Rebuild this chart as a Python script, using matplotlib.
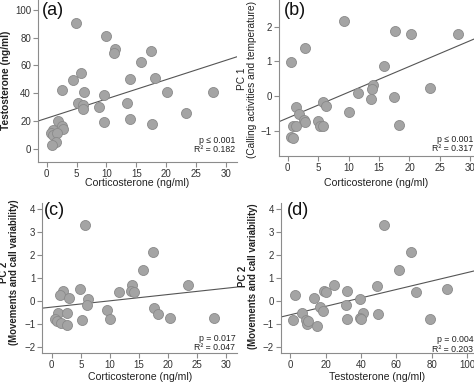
import matplotlib
matplotlib.use('Agg')
import matplotlib.pyplot as plt
import numpy as np

plt.rcParams['font.family'] = ['Liberation Sans', 'DejaVu Sans']

W, H = 474, 385

# (a) corticosterone vs testosterone
a_x = [4.9, 10.0, 11.4, 11.3, 17.4, 15.8, 5.7, 4.4, 13.9, 18.2, 2.6, 6.3, 9.6, 20.2,
       27.8, 5.2, 6.0, 6.1, 8.8, 13.5, 9.6, 13.9, 17.6, 23.3, 1.95, 2.6, 2.8, 1.0,
       0.7, 1.1, 1.8, 1.55, 0.84]
a_y = [90.5, 80.8, 71.9, 68.8, 70.0, 62.3, 54.2, 49.6, 50.1, 50.6, 42.3, 41.0, 38.4, 41.0,
       40.8, 32.9, 31.4, 28.5, 30.0, 32.9, 19.2, 21.0, 17.7, 25.4, 19.6, 16.3, 14.2, 13.2,
       11.0, 9.5, 11.0, 4.5, 2.5]

# (b) corticosterone vs PC 1
b_x = [9.3, 17.7, 20.3, 27.9, 2.8, 0.6, 15.8, 14.0, 13.9, 11.5, 23.3, 13.6, 17.5, 5.8,
       6.3, 1.4, 1.8, 10.1, 2.6, 2.8, 4.9, 5.3, 5.8, 0.8, 1.4, 18.2, 0.6, 0.9]
b_y = [2.15, 1.89, 1.79, 1.79, 1.39, 0.97, 0.87, 0.33, 0.19, 0.08, 0.22, -0.09, -0.03, -0.18,
       -0.29, -0.32, -0.52, -0.47, -0.68, -0.76, -0.72, -0.86, -0.85, -0.87, -0.86, -0.84,
       -1.17, -1.22]

# (c) corticosterone vs PC 2
c_x = [5.7, 17.5, 15.8, 13.9, 13.6, 14.1, 11.5, 23.4, 4.9, 2.0, 1.4, 2.9, 6.3, 6.0, 9.5,
       17.6, 18.3, 1.0, 2.7, 10.0, 5.3, 20.4, 27.9, 0.5, 0.9, 1.6, 2.6]
c_y = [3.31, 2.15, 1.33, 0.67, 0.45, 0.40, 0.37, 0.69, 0.52, 0.42, 0.24, 0.13, 0.07, -0.17,
       -0.42, -0.32, -0.58, -0.54, -0.54, -0.80, -0.82, -0.76, -0.76, -0.80, -0.90, -0.98,
       -1.07]

# (d) testosterone vs PC 2
d_x = [52.8, 68.5, 61.3, 88.7, 70.9, 49.1, 24.9, 32.1, 18.9, 20.4, 2.8, 13.6, 39.6, 31.3,
       16.8, 18.3, 6.4, 41.1, 49.4, 32.1, 39.2, 40.2, 78.9, 1.6, 8.9, 9.6, 14.9, 10.0]
d_y = [3.31, 2.15, 1.33, 0.52, 0.37, 0.66, 0.69, 0.45, 0.41, 0.37, 0.24, 0.13, 0.07, -0.17,
       -0.29, -0.43, -0.54, -0.54, -0.59, -0.80, -0.76, -0.80, -0.80, -0.83, -0.84, -1.01,
       -1.09, -0.90]

# regression lines: (intercept, slope)
fit_a = (21.9, 1.39)
fit_b = (-0.633, 0.0744)
fit_c = (-0.276, 0.0275)
fit_d = (-0.61, 0.0184)

stats_a = ["p \u2264 0.001", "R\u00b2 = 0.182"]
stats_b = ["p \u2264 0.001", "R\u00b2 = 0.317"]
stats_c = ["p = 0.017", "R\u00b2 = 0.047"]
stats_d = ["p = 0.004", "R\u00b2 = 0.203"]

cort_label = "Corticosterone (ng/ml)"
tst_label = "Testosterone (ng/ml)"
pc1_label = "PC 1\n(Calling activities and temperature)"
pc2_label = "PC 2\n(Movements and call variability)"


def fx(x):
    return x / W


def fy(y):
    return 1 - y / H


def make_axes(fig, left, top, right, bottom):
    return fig.add_axes([fx(left), fy(bottom), (right - left) / W, (bottom - top) / H])


fig = plt.figure(figsize=(W / 100, H / 100), dpi=100)

panels = [
    dict(x=a_x, y=a_y, fit=fit_a, stats=stats_a, box=(38, 0, 237, 162),
         xlim=(-1.46, 31.84), ylim=(-9.6, 107.0), xt=range(0, 31, 5), yt=range(0, 101, 20),
         xl=cort_label, yl=tst_label, ylw='bold', ylfs=7.3, tag='(a)', tagpos=(42, 2),
         ylpos=(11, 80), xlpos=178.5, stpos=(235.5, 142.7, 152.3)),
    dict(x=b_x, y=b_y, fit=fit_b, stats=stats_b, box=(278.7, 0, 474, 155.7),
         xlim=(-1.48, 30.6), ylim=(-1.72, 2.77), xt=range(0, 31, 5), yt=range(-1, 3),
         xl=cort_label, yl=pc1_label, ylw='normal', ylfs=7.3, tag='(b)', tagpos=(284, 2),
         ylpos=(257, 79), xlpos=178.5, stpos=(473.5, 141.7, 150.7)),
    dict(x=c_x, y=c_y, fit=fit_c, stats=stats_c, box=(42.3, 203.3, 237, 353),
         xlim=(-1.62, 31.9), ylim=(-2.28, 4.26), xt=range(0, 31, 5), yt=range(-2, 5),
         xl=cort_label, yl=pc2_label, ylw='bold', ylfs=6.9, tag='(c)', tagpos=(44, 202),
         ylpos=(19, 272), xlpos=372.5, stpos=(235.5, 340.7, 350.5)),
    dict(x=d_x, y=d_y, fit=fit_d, stats=stats_d, box=(281, 203.3, 474, 353),
         xlim=(-5.26, 104.0), ylim=(-2.28, 4.26), xt=range(0, 101, 20), yt=range(-2, 5),
         xl=tst_label, yl=pc2_label, ylw='bold', ylfs=6.9, tag='(d)', tagpos=(287, 202),
         ylpos=(258.5, 276), xlpos=372.5, stpos=(473.5, 341.5, 351.5)),
]

spine_col = '#8c8c8c'

for p in panels:
    ax = make_axes(fig, *p['box'])
    ax.set_xlim(p['xlim'])
    ax.set_ylim(p['ylim'])
    for s in ['top', 'right']:
        ax.spines[s].set_visible(False)
    for s in ['left', 'bottom']:
        ax.spines[s].set_color(spine_col)
        ax.spines[s].set_linewidth(0.8)
    ax.set_xticks(list(p['xt']))
    ax.set_yticks(list(p['yt']))
    ax.tick_params(direction='out', length=3.5, width=0.8, color=spine_col,
                   labelcolor='#333333', labelsize=7.0, pad=1.5)

    xs = np.array(p['xlim'])
    b0, b1 = p['fit']
    ax.plot(xs, b0 + b1 * xs, color='#555555', lw=0.8, zorder=2)
    ax.scatter(p['x'], p['y'], s=52, facecolor='#a4a4a4', edgecolor='#8a8a8a',
               linewidth=0.6, zorder=3)

    ax.set_xlabel(p['xl'], fontsize=7.6, color='#222222')
    ax.xaxis.set_label_coords(fx((p['box'][0] + p['box'][2]) / 2), fy(p['xlpos']),
                              transform=fig.transFigure)
    ax.set_ylabel(p['yl'], fontsize=p['ylfs'], color='#222222', fontweight=p['ylw'],
                  linespacing=1.0)
    ax.yaxis.set_label_coords(fx(p['ylpos'][0]), fy(p['ylpos'][1]), transform=fig.transFigure)

    fig.text(fx(p['tagpos'][0]), fy(p['tagpos'][1]), p['tag'], fontsize=13,
             ha='left', va='top', color='#111111')

    sx, sy1, sy2 = p['stpos']
    fig.text(fx(sx), fy(sy1), p['stats'][0], fontsize=6.3, ha='right', va='baseline',
             color='#222222')
    fig.text(fx(sx), fy(sy2), p['stats'][1], fontsize=6.3, ha='right', va='baseline',
             color='#222222')

fig.savefig('out.png', dpi=100)
